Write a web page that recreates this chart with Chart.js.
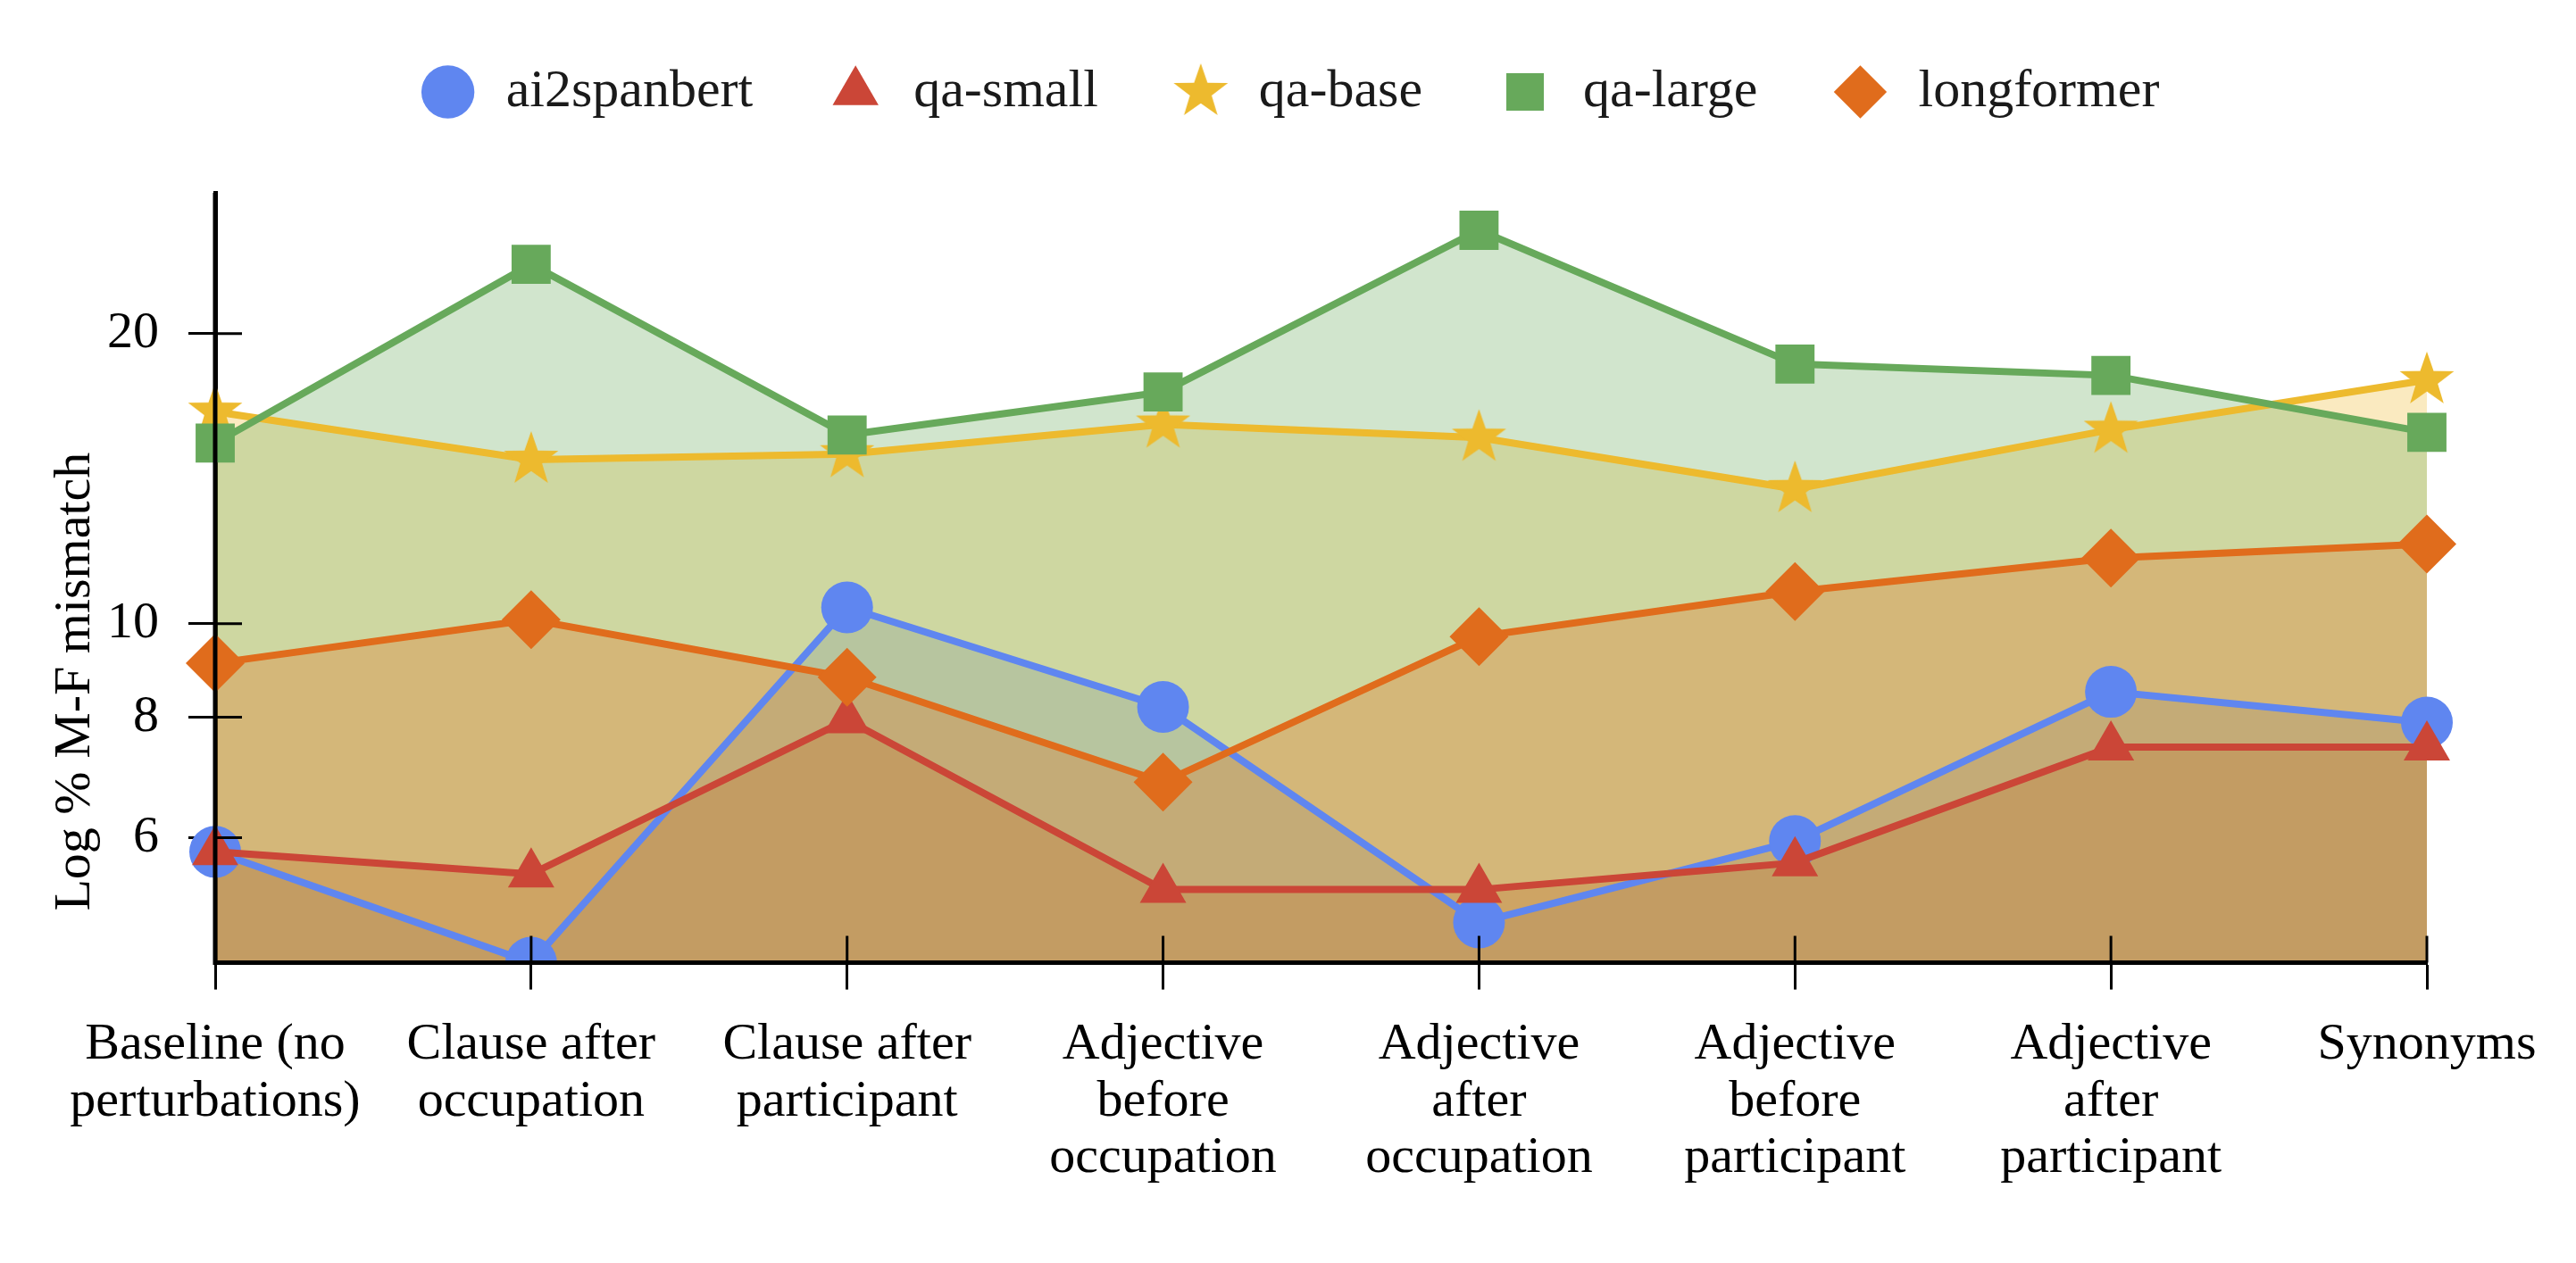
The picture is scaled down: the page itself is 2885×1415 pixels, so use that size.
<!DOCTYPE html>
<html>
<head>
<meta charset="utf-8">
<script src="https://cdn.jsdelivr.net/npm/chart.js@4.4.0/dist/chart.umd.min.js"></script>
<style>
  html, body { margin: 0; padding: 0; background: #fff; }
  #wrap { width: 2885px; height: 1415px; }
</style>
</head>
<body>
<div id="wrap"><canvas id="chart" width="2885" height="1415"></canvas></div>
<script>
// categories (perturbation types)
const categories = [
    ['Baseline (no', 'perturbations)'],
    ['Clause after', 'occupation'],
    ['Clause after', 'participant'],
    ['Adjective', 'before', 'occupation'],
    ['Adjective', 'after', 'occupation'],
    ['Adjective', 'before', 'participant'],
    ['Adjective', 'after', 'participant'],
    'Synonyms'
];

// % M-F mismatch per model
const ai2spanbert = [5.8, 4.45, 10.4, 8.2, 4.9, 5.95, 8.5, 7.9];
const qaSmall     = [5.8, 5.5, 7.95, 5.3, 5.3, 5.65, 7.45, 7.45];
const qaBase      = [16.6, 14.8, 15.0, 16.1, 15.6, 13.8, 15.9, 17.9];
const qaLarge     = [15.4, 23.6, 15.7, 17.4, 25.6, 18.6, 18.1, 15.8];
const longformer  = [9.1, 10.1, 8.8, 6.85, 9.7, 10.8, 11.7, 12.1];

const yTicks = [6, 8, 10, 20];

const FONT = 'Liberation Serif, Times New Roman, serif';

// filled five point star, chart.js has only the line 'star'
function makeStar(color, r) {
    const c = document.createElement('canvas');
    c.width = c.height = Math.ceil(r * 2) + 2;
    const g = c.getContext('2d');
    const cx = c.width / 2, cy = c.height / 2, ri = r * 0.4;
    g.beginPath();
    for (let i = 0; i < 10; i++) {
        const rad = i % 2 ? ri : r;
        const a = -Math.PI / 2 + i * Math.PI / 5;
        g.lineTo(cx + rad * Math.cos(a), cy + rad * Math.sin(a));
    }
    g.closePath();
    g.fillStyle = color;
    g.fill();
    return c;
}

// later series are painted on top (order 5 goes first)
function series(label, data, color, style, radius, order) {
    return {
        label: label,
        data: data,
        order: order,
        borderColor: color,
        backgroundColor: color + '4D',
        pointBackgroundColor: color,
        pointBorderColor: color,
        pointBorderWidth: 0,
        pointStyle: style,
        pointRadius: radius,
        borderWidth: 8,
        fill: 'start',
        tension: 0
    };
}

const tweaks = {
    id: 'tweaks',
    afterInit(chart) {
        // legend needs wide gaps between items but less height
        const lg = chart.legend;
        const fit = lg.fit;
        lg.fit = function () {
            fit.call(this);
            this.height += 73;
        };
    },
    afterLayout(chart) {
        chart.legend.left += 66;
        chart.legend.right += 66;
    },
    // axis lines on top of the fills, ticks crossing the axes
    afterDraw(chart) {
        const ctx = chart.ctx;
        const xs = chart.scales.x, ys = chart.scales.y;
        const area = chart.chartArea;
        ctx.save();
        ctx.strokeStyle = '#000';
        ctx.lineWidth = 3;
        ctx.beginPath();
        xs.ticks.forEach((t, i) => {
            const px = xs.getPixelForTick(i);
            ctx.moveTo(px, area.bottom);
            ctx.lineTo(px, area.bottom - 30);
        });
        ys.ticks.forEach(t => {
            const py = ys.getPixelForValue(t.value);
            ctx.moveTo(area.left, py);
            ctx.lineTo(area.left + 30, py);
        });
        ctx.stroke();
        ctx.lineWidth = 5;
        ctx.beginPath();
        ctx.moveTo(area.left, area.top);
        ctx.lineTo(area.left, area.bottom);
        ctx.moveTo(area.left - 2.5, area.bottom);
        ctx.lineTo(area.right, area.bottom);
        ctx.stroke();
        ctx.restore();
    }
};

new Chart(document.getElementById('chart'), {
    type: 'line',
    data: {
        labels: categories,
        datasets: [
            series('ai2spanbert', ai2spanbert, '#5F86F0', 'circle', 29, 5),
            series('qa-small', qaSmall, '#CB4637', 'triangle', 30, 4),
            series('qa-base', qaBase, '#EDBA2E', makeStar('#EDBA2E', 32), 32, 3),
            series('qa-large', qaLarge, '#67A95B', 'rect', 31, 2),
            series('longformer', longformer, '#E06C1C', 'rectRot', 33, 1)
        ]
    },
    options: {
        responsive: false,
        animation: false,
        devicePixelRatio: 1,
        layout: { padding: { top: -22, right: 167, bottom: 55, left: 50 } },
        plugins: {
            tooltip: { enabled: false },
            filler: { drawTime: 'beforeDatasetsDraw' },
            legend: {
                position: 'top',
                labels: {
                    usePointStyle: true,
                    boxHeight: 42,
                    padding: 95,
                    color: '#1a1a1a',
                    font: { family: FONT, size: 60 },
                    // a bit more room between marker and text
                    generateLabels: chart => Chart.defaults.plugins.legend.labels.generateLabels(chart)
                        .map(item => Object.assign(item, { text: ' ' + item.text })),
                    sort: (a, b) => a.datasetIndex - b.datasetIndex
                }
            }
        },
        scales: {
            x: {
                offset: false,
                border: { color: '#000', width: 5 },
                grid: { drawOnChartArea: false, tickLength: 30, tickWidth: 3, tickColor: '#000' },
                ticks: {
                    color: '#000',
                    maxRotation: 0,
                    autoSkip: false,
                    padding: 30,
                    font: { family: FONT, size: 58, lineHeight: 1.1 }
                }
            },
            y: {
                type: 'logarithmic',
                min: 4.45,
                max: 28,
                afterBuildTicks: axis => { axis.ticks = yTicks.map(v => ({ value: v })); },
                afterFit: axis => { axis.width = 191; },
                border: { color: '#000', width: 5 },
                grid: { drawOnChartArea: false, tickLength: 30, tickWidth: 3, tickColor: '#000' },
                ticks: {
                    color: '#000',
                    padding: 33,
                    font: { family: FONT, size: 58 },
                    callback: v => String(v)
                },
                title: {
                    display: true,
                    text: '    Log % M-F mismatch',
                    align: 'start',
                    color: '#000',
                    padding: 0,
                    font: { family: FONT, size: 58 }
                }
            }
        }
    },
    plugins: [tweaks]
});
</script>
</body>
</html>
